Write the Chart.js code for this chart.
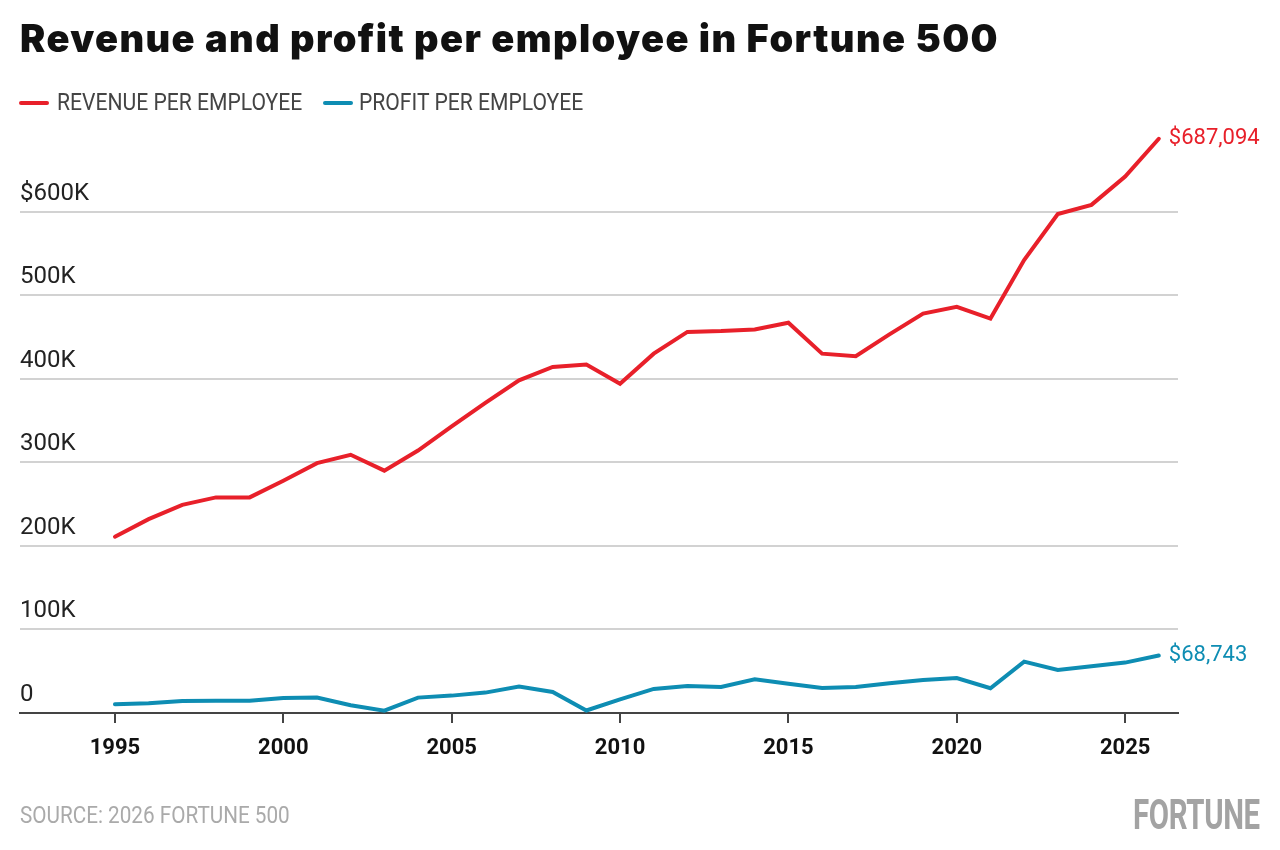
<!DOCTYPE html>
<html>
<head>
<meta charset="utf-8">
<script src="https://cdn.jsdelivr.net/npm/chart.js@4"></script>
<style>
  html, body { margin: 0; padding: 0; background: #fff; }
  #wrap { position: relative; width: 1280px; height: 850px; overflow: hidden; }
  #chart { position: absolute; left: 0; top: 0; }
  .txt { position: absolute; white-space: nowrap; transform-origin: 0 0; }
  #title { left: 20px; top: 15px; font: 900 38px Inter, sans-serif; color: #111; letter-spacing: 1.4px; }
  .swatch { position: absolute; height: 4px; width: 30px; top: 101px; border-radius: 2px; }
  .leg { top: 88px; font: 400 24px Roboto, sans-serif; color: #444; transform: scaleX(0.88); }
  #source { left: 20px; top: 802px; font: 400 23px Roboto, sans-serif; color: #aaa; transform: scaleX(0.9); }
  #logo { left: 1133px; top: 790px; font: 700 42px Roboto, sans-serif; color: #a3a3a3; transform: scaleX(0.7); letter-spacing: -0.5px; }
</style>
</head>
<body>
<div id="wrap">
  <canvas id="chart" width="1280" height="850"></canvas>
  <div id="title" class="txt">Revenue and profit per employee in Fortune 500</div>
  <div class="swatch" style="left:19px;background:#e8202a"></div>
  <div class="txt leg" style="left:57px">REVENUE PER EMPLOYEE</div>
  <div class="swatch" style="left:323px;background:#0e8db3"></div>
  <div class="txt leg" style="left:359px">PROFIT PER EMPLOYEE</div>
  <div id="source" class="txt">SOURCE: 2026 FORTUNE 500</div>
  <div id="logo" class="txt">FORTUNE</div>
</div>
<script>
// values, dollars per employee
const years = [1995, 1996, 1997, 1998, 1999, 2000, 2001, 2002, 2003, 2004,
  2005, 2006, 2007, 2008, 2009, 2010, 2011, 2012, 2013, 2014,
  2015, 2016, 2017, 2018, 2019, 2020, 2021, 2022, 2023, 2024, 2025, 2026]
const revenue = [211000, 232000, 249000, 258000, 258000, 278000, 299000, 309000, 290000, 314000,
  343000, 371000, 398000, 414000, 417000, 394000, 430000, 456000, 457000, 459000,
  467000, 430000, 427000, 453000, 478000, 486000, 472000, 542000, 597000, 608000, 642000, 687094]
const profit = [10400, 11600, 14400, 14800, 14800, 18000, 18400, 9200, 2800, 18400,
  20800, 24400, 31600, 25200, 3000, 16200, 28800, 32300, 31200, 40300,
  35100, 30000, 31200, 35500, 39500, 41900, 29600, 61500, 51500, 55900, 60300, 68743]
const xTicks = [1995, 2000, 2005, 2010, 2015, 2020, 2025]
const yTicks = [0, 100000, 200000, 300000, 400000, 500000, 600000]

const RED = '#e8202a'
const TEAL = '#0e8db3'

// value label at the end of each line
const endLabels = {
  id: 'endLabels',
  afterDatasetsDraw(chart) {
    const ctx = chart.ctx
    chart.data.datasets.forEach((ds, i) => {
      const meta = chart.getDatasetMeta(i)
      const pt = meta.data[meta.data.length - 1]
      const v = ds.data[ds.data.length - 1].y
      ctx.save()
      ctx.font = '400 22px Roboto, sans-serif'
      ctx.fillStyle = ds.borderColor
      ctx.textAlign = 'left'
      ctx.textBaseline = 'middle'
      ctx.fillText('$' + v.toLocaleString('en-US'), pt.x + 10, pt.y)
      ctx.restore()
    })
  }
}

const toPts = arr => years.map((yr, i) => ({ x: yr, y: arr[i] }))

new Chart(document.getElementById('chart'), {
  type: 'line',
  data: {
    datasets: [
      { label: 'Revenue per employee', data: toPts(revenue), borderColor: RED, borderWidth: 4, pointRadius: 0, tension: 0, borderCapStyle: 'round' },
      { label: 'Profit per employee', data: toPts(profit), borderColor: TEAL, borderWidth: 4, pointRadius: 0, tension: 0, borderCapStyle: 'round' }
    ]
  },
  options: {
    responsive: false,
    animation: false,
    devicePixelRatio: 1,
    layout: { padding: { left: 20, right: 102, top: 128, bottom: 87 } },
    plugins: { legend: { display: false }, tooltip: { enabled: false } },
    scales: {
      x: {
        type: 'linear',
        min: 1992.18,
        max: 2026.57,
        afterBuildTicks: s => { s.ticks = xTicks.map(v => ({ value: v })) },
        afterFit: s => { s.height = 50 },
        grid: { drawOnChartArea: false, drawTicks: true, tickLength: 10, color: '#444', lineWidth: 2 },
        border: { display: true, color: '#444', width: 2 },
        ticks: { padding: 12, color: '#111', font: { family: 'Roboto', size: 22, weight: 'bold' }, maxRotation: 0, callback: v => String(v) }
      },
      y: {
        min: 0,
        max: 700000,
        afterBuildTicks: s => { s.ticks = yTicks.map(v => ({ value: v })) },
        afterFit: s => { s.width = 0 },
        grid: { drawTicks: false, color: '#d2d2d2', lineWidth: 2 },
        border: { display: false },
        ticks: {
          mirror: true, padding: 0, labelOffset: -18, color: '#222',
          font: { family: 'Roboto', size: 24 },
          callback: v => v === 600000 ? '$600K' : v === 0 ? '0' : (v / 1000) + 'K'
        }
      }
    }
  },
  plugins: [endLabels]
})
</script>
</body>
</html>
